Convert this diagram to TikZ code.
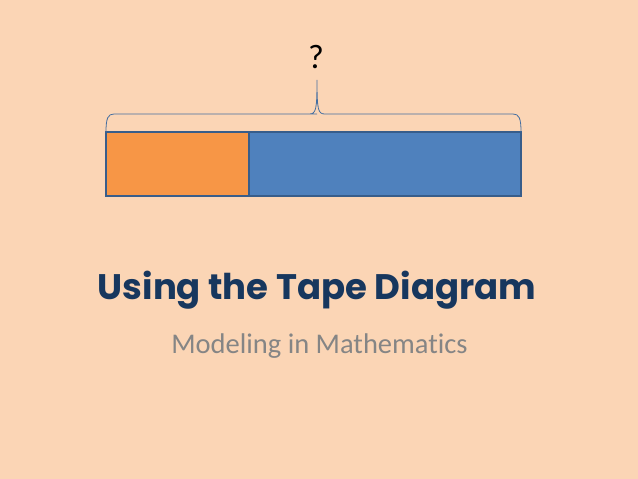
\documentclass[tikz,border=0pt]{standalone}
\usepackage{fontspec}
\setmainfont{Carlito}[Ligatures=NoCommon]
\newfontfamily\titlefont{Poppins}
\usetikzlibrary{positioning}
\definecolor{bgpeach}{HTML}{FBD5B5}
\definecolor{partorange}{HTML}{F79646}
\definecolor{partblue}{HTML}{4F81BD}
\definecolor{partedge}{HTML}{385D8A}
\definecolor{titleblue}{HTML}{17375E}
\definecolor{subgray}{HTML}{858585}
\tikzset{
  tapepart/.style={draw=partedge, line width=1.2pt, minimum height=64pt, inner sep=0pt, outer sep=0pt},
  bracket/.style={draw=partblue!85!black, line width=0.8pt},
}
\begin{document}
\begin{tikzpicture}[x=1pt, y=-1pt]
\fill[bgpeach] (0,0) rectangle (638,479);
\useasboundingbox (0,0) rectangle (638,479);
% tape
\node[tapepart, fill=partorange, minimum width=143pt] (small) at (177.5,164) {};
\node[tapepart, fill=partblue, minimum width=272pt, right=0pt of small] (big) {};
% brace over the whole tape
\coordinate (tip) at (317,80);
\draw[bracket] (small.north west) .. controls ++(0,-14) and ++(-6,0) .. ([xshift=8pt,yshift=18pt]small.north west)
  -- ([yshift=18pt]tip |- small.north) ++(-8,0) .. controls ++(7,0) and ++(0,30) .. (tip)
  .. controls ++(0,30) and ++(-7,0) .. ([xshift=8pt,yshift=18pt]tip |- big.north)
  -- ([xshift=-8pt,yshift=18pt]big.north east) .. controls ++(6,0) and ++(0,-14) .. (big.north east);
\node[font=\fontsize{34}{34}\selectfont, anchor=base] (ask) at (316,68) {?};
% titles
\node[font=\titlefont\bfseries\fontsize{35.5}{35.5}\selectfont, text=titleblue, anchor=base] (title) at (317,299) {Using the Tape Diagram};
\node[font=\fontsize{28.5}{28.5}\selectfont, text=subgray, anchor=base] (subtitle) at (319.5,353) {Modeling in Mathematics};
\end{tikzpicture}
\end{document}
